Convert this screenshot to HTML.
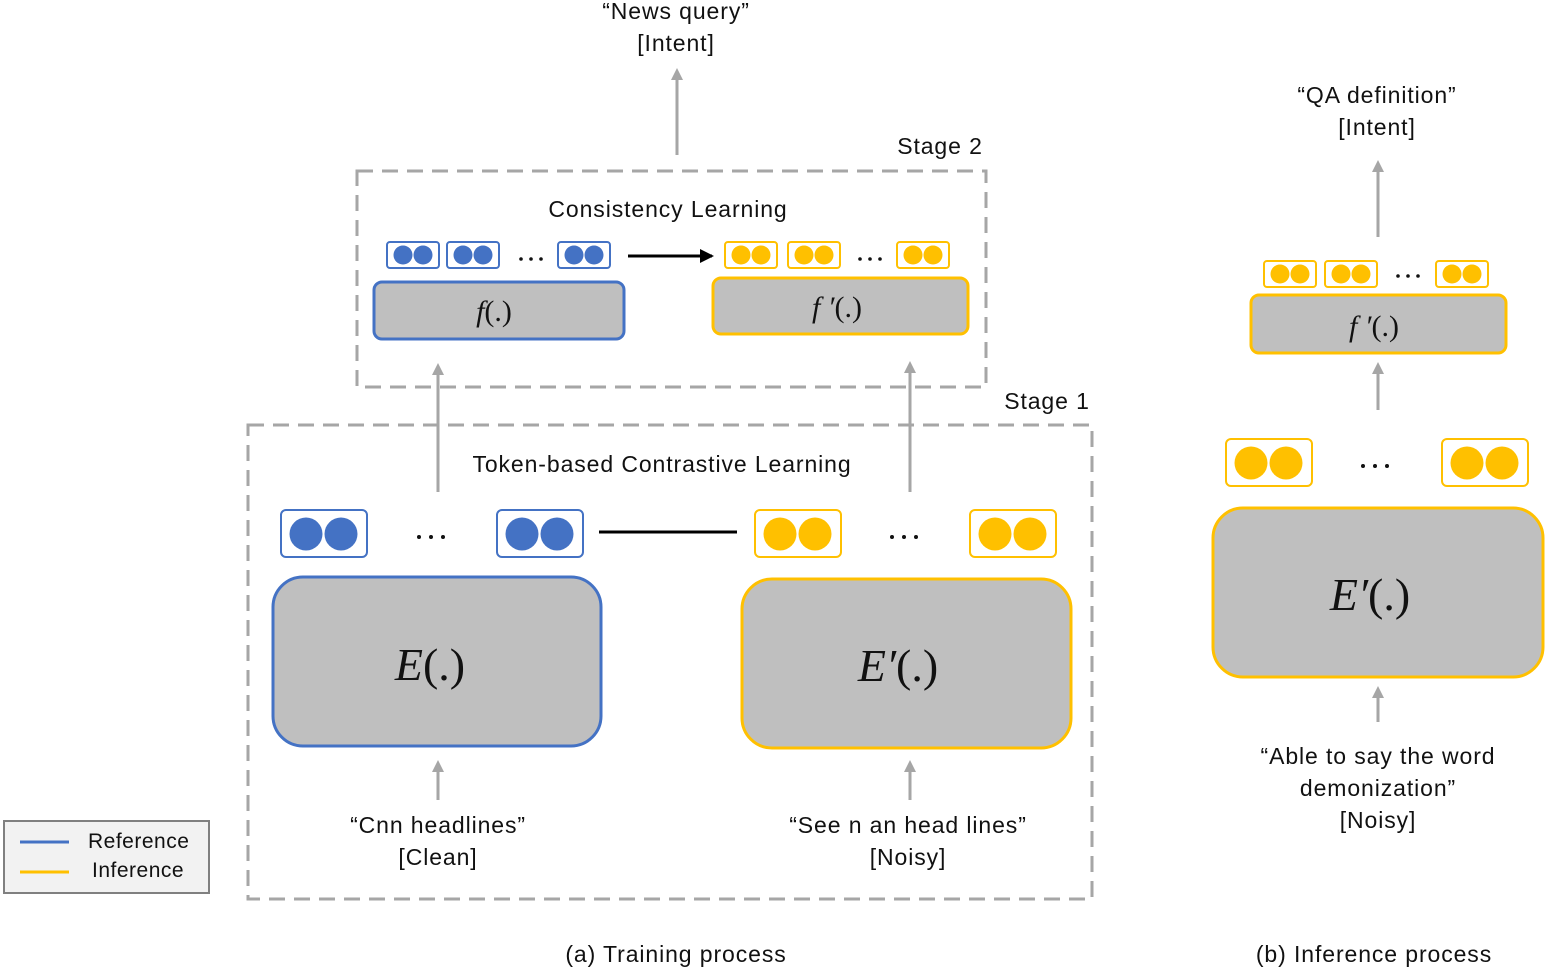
<!DOCTYPE html>
<html><head><meta charset="utf-8"><style>body{margin:0;background:#fff}svg{display:block}text{font-family:"Liberation Sans",sans-serif;fill:#111}text.m{font-family:"Liberation Serif",serif;letter-spacing:0}</style></head><body>
<svg width="1547" height="969" viewBox="0 0 1547 969" xmlns="http://www.w3.org/2000/svg">
<defs>
<marker id="ga" markerWidth="12" markerHeight="12" refX="6" refY="6" orient="auto" markerUnits="userSpaceOnUse"><path d="M0,0 L12,6 L0,12 z" fill="#A6A6A6"/></marker>
<marker id="ba" markerWidth="14" markerHeight="14" refX="12" refY="7" orient="auto" markerUnits="userSpaceOnUse"><path d="M0,0 L14,7 L0,14 z" fill="#000"/></marker>
<g id="sb"><rect x="0" y="0" width="52" height="26" rx="3" fill="#fff" stroke="#4472C4" stroke-width="2"/><circle cx="16" cy="13" r="9.5" fill="#4472C4"/><circle cx="36" cy="13" r="9.5" fill="#4472C4"/></g>
<g id="sy"><rect x="0" y="0" width="52" height="26" rx="3" fill="#fff" stroke="#FFC000" stroke-width="2"/><circle cx="16" cy="13" r="9.5" fill="#FFC000"/><circle cx="36" cy="13" r="9.5" fill="#FFC000"/></g>
<g id="lb"><rect x="0" y="0" width="86" height="47" rx="5" fill="#fff" stroke="#4472C4" stroke-width="2"/><circle cx="25" cy="24" r="16.5" fill="#4472C4"/><circle cx="60" cy="24" r="16.5" fill="#4472C4"/></g>
<g id="ly"><rect x="0" y="0" width="86" height="47" rx="5" fill="#fff" stroke="#FFC000" stroke-width="2"/><circle cx="25" cy="24" r="16.5" fill="#FFC000"/><circle cx="60" cy="24" r="16.5" fill="#FFC000"/></g>
</defs>
<rect x="357" y="171" width="629" height="216" fill="none" stroke="#A6A6A6" stroke-width="3" stroke-dasharray="16,9"/>
<rect x="248" y="425" width="844" height="474" fill="none" stroke="#A6A6A6" stroke-width="3" stroke-dasharray="16,9"/>
<g stroke="#A6A6A6" stroke-width="3" marker-end="url(#ga)">
<line x1="677" y1="155" x2="677" y2="74"/><line x1="438" y1="492" x2="438" y2="369"/><line x1="910" y1="492" x2="910" y2="367"/>
<line x1="438" y1="800" x2="438" y2="766"/><line x1="910" y1="800" x2="910" y2="766"/>
<line x1="1378" y1="237" x2="1378" y2="166"/><line x1="1378" y1="410" x2="1378" y2="368"/><line x1="1378" y1="722" x2="1378" y2="692"/>
</g>
<line x1="628" y1="256" x2="712" y2="256" stroke="#000" stroke-width="3" marker-end="url(#ba)"/>
<line x1="599" y1="532" x2="737" y2="532" stroke="#000" stroke-width="3"/>
<use href="#sb" x="387" y="242"/><use href="#sb" x="447" y="242"/><use href="#sb" x="558" y="242"/>
<use href="#sy" x="725" y="242"/><use href="#sy" x="788" y="242"/><use href="#sy" x="897" y="242"/>
<use href="#sy" x="1264" y="261"/><use href="#sy" x="1325" y="261"/><use href="#sy" x="1436" y="261"/>
<use href="#lb" x="281" y="510"/><use href="#lb" x="497" y="510"/><use href="#ly" x="755" y="510"/><use href="#ly" x="970" y="510"/>
<use href="#ly" x="1226" y="439"/><use href="#ly" x="1442" y="439"/>
<g fill="#111">
<circle cx="521" cy="259" r="1.8"/><circle cx="531" cy="259" r="1.8"/><circle cx="541" cy="259" r="1.8"/>
<circle cx="860" cy="259" r="1.8"/><circle cx="870" cy="259" r="1.8"/><circle cx="880" cy="259" r="1.8"/>
<circle cx="1398" cy="276" r="1.8"/><circle cx="1408" cy="276" r="1.8"/><circle cx="1418" cy="276" r="1.8"/>
<circle cx="419" cy="537" r="2"/><circle cx="431" cy="537" r="2"/><circle cx="443" cy="537" r="2"/>
<circle cx="892" cy="537" r="2"/><circle cx="904" cy="537" r="2"/><circle cx="916" cy="537" r="2"/>
<circle cx="1363" cy="466" r="2"/><circle cx="1375" cy="466" r="2"/><circle cx="1387" cy="466" r="2"/>
</g>
<rect x="374" y="282" width="250" height="57" rx="8" fill="#BFBFBF" stroke="#4472C4" stroke-width="3"/>
<rect x="713" y="278" width="255" height="56" rx="8" fill="#BFBFBF" stroke="#FFC000" stroke-width="3"/>
<rect x="1251" y="295" width="255" height="58" rx="8" fill="#BFBFBF" stroke="#FFC000" stroke-width="3"/>
<rect x="273" y="577" width="328" height="169" rx="30" fill="#BFBFBF" stroke="#4472C4" stroke-width="3"/>
<rect x="742" y="579" width="329" height="169" rx="30" fill="#BFBFBF" stroke="#FFC000" stroke-width="3"/>
<rect x="1213" y="508" width="330" height="169" rx="30" fill="#BFBFBF" stroke="#FFC000" stroke-width="3"/>
<g text-anchor="middle">
<text class="m" x="494" y="321" font-size="30"><tspan font-style="italic">f</tspan>(.)</text>
<text class="m" x="837" y="317" font-size="30"><tspan font-style="italic">f ′</tspan>(.)</text>
<text class="m" x="1374" y="336" font-size="30"><tspan font-style="italic">f ′</tspan>(.)</text>
<text class="m" x="430" y="680" font-size="46"><tspan font-style="italic">E</tspan>(.)</text>
<text class="m" x="898" y="681" font-size="46"><tspan font-style="italic">E′</tspan>(.)</text>
<text class="m" x="1370" y="610" font-size="46"><tspan font-style="italic">E′</tspan>(.)</text>
</g>
<g font-size="23" text-anchor="middle" style="letter-spacing:0.9px">
<text x="676" y="19">“News query”</text><text x="676" y="51">[Intent]</text>
<text x="940" y="154">Stage 2</text><text x="1047" y="409">Stage 1</text>
<text x="668" y="217">Consistency Learning</text>
<text x="662" y="472">Token-based Contrastive Learning</text>
<text x="438" y="833">“Cnn headlines”</text><text x="438" y="865">[Clean]</text>
<text x="908" y="833">“See n an head lines”</text><text x="908" y="865">[Noisy]</text>
<text x="1377" y="103">“QA definition”</text><text x="1377" y="135">[Intent]</text>
<text x="1378" y="764">“Able to say the word</text><text x="1378" y="796">demonization”</text><text x="1378" y="828">[Noisy]</text>
<text x="676" y="962">(a) Training process</text><text x="1374" y="962">(b) Inference process</text>
</g>
<rect x="4" y="821" width="205" height="72" fill="#F2F2F2" stroke="#808080" stroke-width="2"/>
<line x1="20" y1="842" x2="69" y2="842" stroke="#4472C4" stroke-width="3"/>
<line x1="20" y1="872" x2="69" y2="872" stroke="#FFC000" stroke-width="3"/>
<text x="88" y="848" font-size="21" style="letter-spacing:0.5px">Reference</text>
<text x="92" y="877" font-size="21" style="letter-spacing:0.5px">Inference</text>
</svg>
</body></html>
